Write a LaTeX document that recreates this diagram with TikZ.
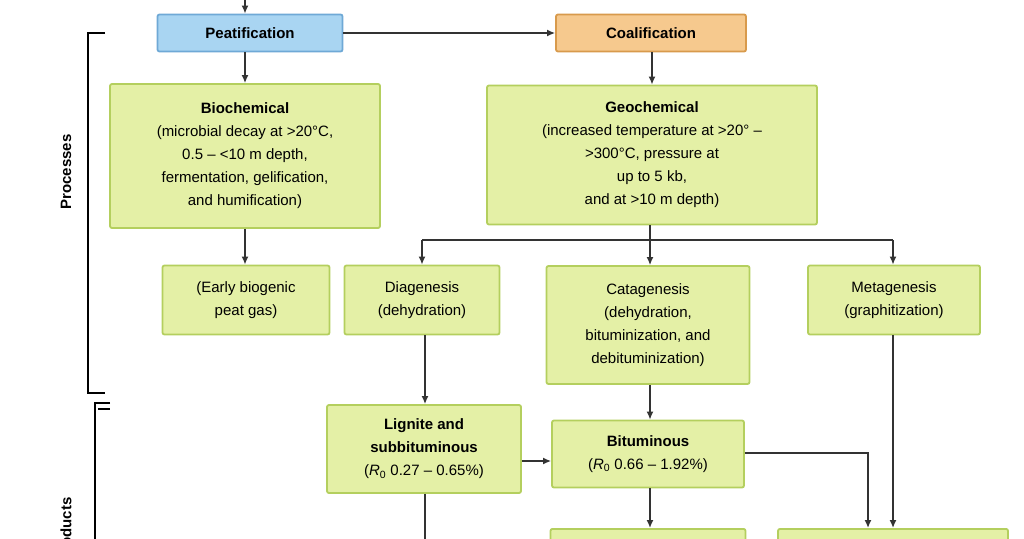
\documentclass[tikz,border=0pt]{standalone}
\usepackage{fontspec}
\setmainfont{Liberation Sans}
\usetikzlibrary{calc}
\usetikzlibrary{arrows.meta}
\definecolor{boxgreen}{HTML}{E4F0A6}
\definecolor{edgegreen}{HTML}{B4CF5E}
\definecolor{boxblue}{HTML}{A9D5F2}
\definecolor{edgeblue}{HTML}{6FA9D6}
\definecolor{boxorange}{HTML}{F6C98E}
\definecolor{edgeorange}{HTML}{D89A4C}
\tikzset{
  stage/.style={draw=edgegreen,fill=boxgreen,line width=1.8pt,align=center,
    rounded corners=2pt,font=\fontsize{15}{23}\selectfont,inner sep=0pt},
  head/.style={font=\bfseries\fontsize{15}{18}\selectfont,minimum height=37pt},
  flow/.style={line width=1.5pt,draw=black!80,-{Latex[length=8pt,width=7pt]}}
}
\begin{document}
\begin{tikzpicture}[x=1pt,y=-1pt]
  % Boundary
  \path[use as bounding box,clip] (0,0) rectangle (1024,538);
  \fill[white] (0,0) rectangle (1024,538);
  % Top row
  \node[stage,head,draw=edgeblue,fill=boxblue,minimum width=185pt] (peat) at (250,33) {Peatification};
  \node[stage,head,draw=edgeorange,fill=boxorange,minimum width=190pt] (coal) at (651,33) {Coalification};
  \coordinate (top) at (245,-5);
  % Processes
  \node[stage,minimum width=270pt,minimum height=144pt] (bio) at (245,156) {\textbf{Biochemical}\\(microbial decay at >20°C,\\0.5 -- <10 m depth,\\fermentation, gelification,\\and humification)};
  \node[stage,minimum width=330pt,minimum height=139pt] (geo) at (652,155) {\textbf{Geochemical}\\(increased temperature at >20° --\\>300°C, pressure at\\up to 5 kb,\\and at >10 m depth)};
  \node[stage,minimum width=167pt,minimum height=69pt] (early) at (246,300) {(Early biogenic\\peat gas)};
  \node[stage,minimum width=155pt,minimum height=69pt] (dia) at (422,300) {Diagenesis\\(dehydration)};
  \node[stage,minimum width=203pt,minimum height=118pt] (cata) at (648,325) {Catagenesis\\(dehydration,\\bituminization, and\\debituminization)};
  \node[stage,minimum width=172pt,minimum height=69pt] (meta) at (894,300) {Metagenesis\\(graphitization)};
  % Products
  \node[stage,minimum width=194pt,minimum height=88pt] (lig) at (424,449) {\textbf{Lignite and}\\\textbf{subbituminous}\\(\textit{R}\textsubscript{0} 0.27 -- 0.65\%)};
  \node[stage,minimum width=192pt,minimum height=67pt] (bit) at (648,454) {\textbf{Bituminous}\\(\textit{R}\textsubscript{0} 0.66 -- 1.92\%)};
  \node[stage,minimum width=195pt,minimum height=40pt,anchor=north] (anth) at (648,528) {};
  \node[stage,minimum width=230pt,minimum height=40pt,anchor=north] (graph) at (893,528) {};
  \coordinate (ligout) at (425,545);
  % Connectors
  \draw[flow] (top) -- (peat.north -| top);
  \draw[flow] (peat) -- (coal);
  \draw[flow] (peat.south -| top) -- (bio.north -| top);
  \draw[flow] (coal.south -| geo.north) -- (geo.north);
  \draw[flow] (bio.south -| top) -- (early.north -| top);
  \draw[line width=1.5pt,draw=black!80] (geo.south -| 650,0) -- (650,240) (422,240) -- (893,240);
  \draw[flow] (422,240) -- (dia.north -| 422,0);
  \draw[flow] (650,240) -- (cata.north -| 650,0);
  \draw[flow] (893,240) -- (meta.north -| 893,0);
  \draw[flow] (dia.south -| 425,0) -- (lig.north -| 425,0);
  \draw[flow] (cata.south -| 650,0) -- (bit.north -| 650,0);
  \draw[flow] (lig.east |- 461,461) -- (bit.west |- 461,461);
  \draw[flow] (bit.south -| 650,0) -- (anth.north -| 650,0);
  \draw[flow] (bit.east |- 453,453) -- (868,453) -- (graph.north -| 868,0);
  \draw[flow] (meta.south -| 893,0) -- (graph.north -| 893,0);
  \draw[line width=1.5pt,draw=black!80] (lig.south -| 425,0) -- (ligout);
  % Brackets
  \draw[line width=1.5pt] (105,33) -- (88,33) -- (88,393) -- (105,393);
  \draw[line width=1.5pt] (110,403) -- (95,403) -- (95,545);
  \draw[line width=1.5pt] (98,409) -- (110,409);
  \node[rotate=90,font=\bfseries\fontsize{15}{18}\selectfont] (proc) at (66,172) {Processes};
  \node[rotate=90,font=\bfseries\fontsize{15}{18}\selectfont] (prod) at (66,530) {Products};
\end{tikzpicture}
\end{document}
